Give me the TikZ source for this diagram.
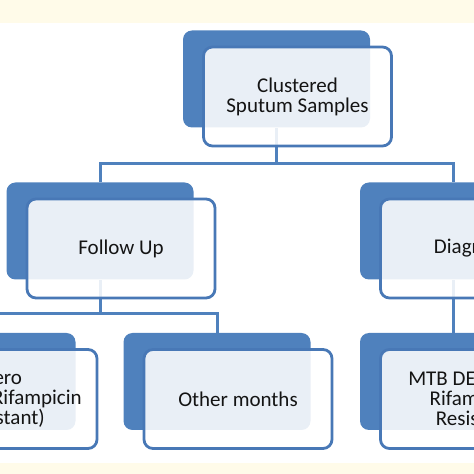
\documentclass[tikz,border=0pt]{standalone}
\usepackage{fontspec}
\setmainfont{Carlito}
\definecolor{azul}{RGB}{79,129,189}
\definecolor{azulborde}{RGB}{72,120,182}
\definecolor{crema}{RGB}{255,251,233}
\tikzset{
  fondo/.style={fill=azul, rounded corners=9pt, minimum width=187pt,
    minimum height=97pt, inner sep=0pt},
  tarjeta/.style={draw=azulborde, line width=2.8pt, fill=white,
    fill opacity=0.88, text opacity=1, rounded corners=9pt,
    minimum width=188pt, minimum height=99pt, inner sep=0pt,
    align=center, text=black!92, font=\fontsize{21}{20}\selectfont},
  linea/.style={draw=azul, line width=3pt}
}
\begin{document}
\begin{tikzpicture}[x=1pt,y=1pt]
  \useasboundingbox (0,0) rectangle (474,474);
  \clip (0,0) rectangle (474,474);

  % Bandas de color arriba y abajo
  \fill[crema] (0,451) rectangle (474,474);
  \fill[crema] (0,0) rectangle (474,11);

  % Cajas azules de fondo
  \node[fondo] (rootbk) at (276.5,395) {};
  \node[fondo] (followbk) at (100,243) {};
  \node[fondo] (diagbk) at (453.5,243) {};
  \node[fondo] (zerobk) at (-18,92.5) {};
  \node[fondo] (otherbk) at (217,92.5) {};
  \node[fondo] (mtbbk) at (453.5,92.5) {};

  % Conectores
  \coordinate (j1) at (276.5,310);
  \coordinate (j2) at (100,160);
  \draw[linea] (rootbk) -- (j1);
  \draw[linea] (followbk.north) |- (j1) -| (diagbk.north);
  \draw[linea] (followbk) -- (j2);
  \draw[linea] (zerobk.north) |- (j2) -| (otherbk.north);
  \draw[linea] (diagbk) -- (mtbbk);

  % Tarjetas blancas desplazadas
  \def\dx{21}
  \def\dy{17.5}
  \node[tarjeta] (root) at ([shift={(\dx,-\dy)}]rootbk) {Clustered\\Sputum Samples};
  \node[tarjeta] (follow) at ([shift={(\dx,-\dy)}]followbk) {Follow Up};
  \node[tarjeta] (diag) at ([shift={(\dx,-\dy)}]diagbk) {Diagnosis};
  \node[tarjeta] (zero) at ([shift={(\dx,-\dy)}]zerobk) {Zero\\month (Rifampicin\\Resistant)};
  \node[tarjeta] (other) at ([shift={(\dx,-\dy)}]otherbk) {Other months};
  \node[tarjeta] (mtb) at ([shift={(\dx,-\dy)}]mtbbk) {MTB DETECTED\\Rifampicin\\Resistant};
\end{tikzpicture}
\end{document}
